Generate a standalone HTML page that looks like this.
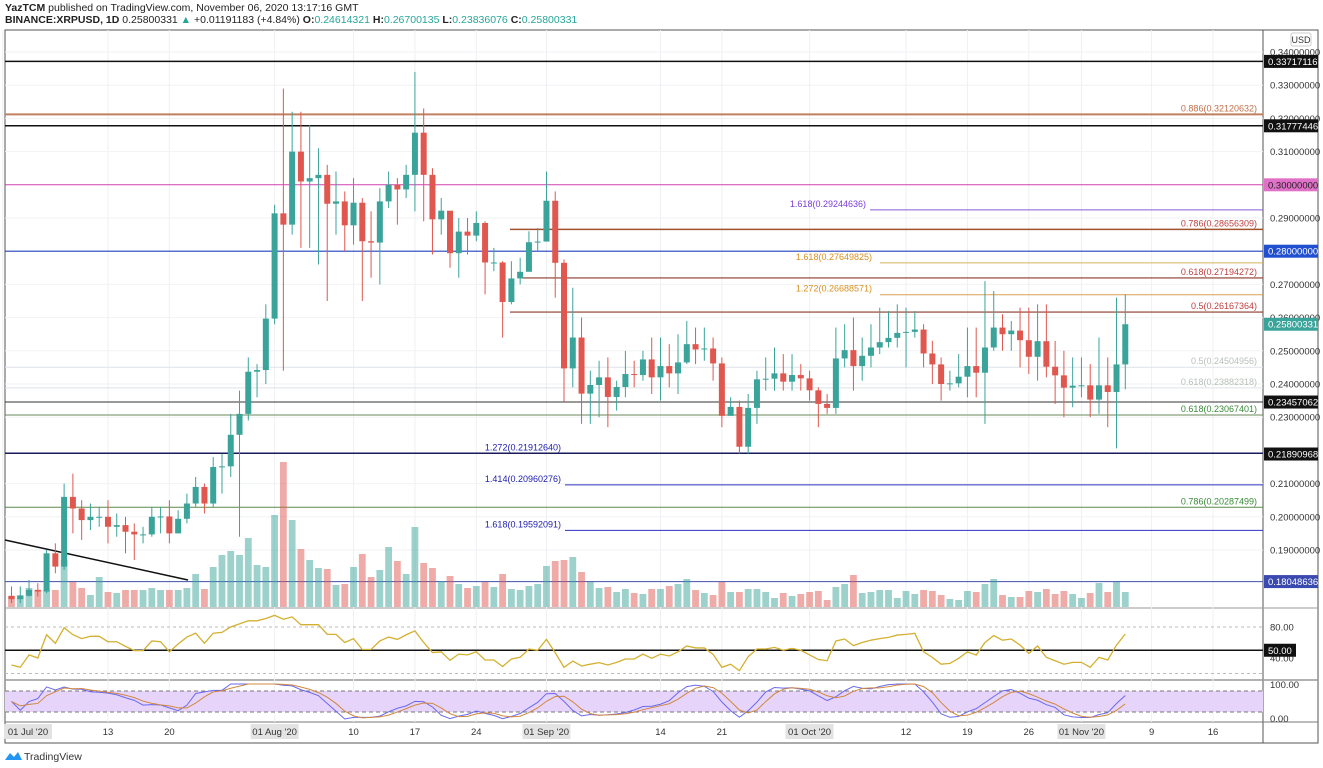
<!DOCTYPE html>
<html><head><meta charset="utf-8"><style>
body{margin:0;background:#fff;}
svg{display:block;font-family:"Liberation Sans",sans-serif;}
</style></head><body>
<svg id="chart" width="1323" height="768" viewBox="0 0 1323 768" xmlns="http://www.w3.org/2000/svg">
<text x="5" y="11" font-size="10.5" fill="#222"><tspan font-weight="bold">YazTCM</tspan> published on TradingView.com, November 06, 2020 13:17:16 GMT</text>
<text x="5" y="23" font-size="10.5" fill="#222"><tspan font-weight="bold">BINANCE:XRPUSD, 1D</tspan> 0.25800331 <tspan fill="#26a69a">▲</tspan> +0.01191183 (+4.84%) <tspan font-weight="bold">O:</tspan><tspan fill="#26a69a">0.24614321</tspan> <tspan font-weight="bold">H:</tspan><tspan fill="#26a69a">0.26700135</tspan> <tspan font-weight="bold">L:</tspan><tspan fill="#26a69a">0.23836076</tspan> <tspan font-weight="bold">C:</tspan><tspan fill="#26a69a">0.25800331</tspan></text>
<rect x="5" y="30" width="1313" height="713" fill="none" stroke="#555" stroke-width="1"/>
<line x1="1263" y1="30" x2="1263" y2="743" stroke="#555" stroke-width="1"/>
<line x1="5" y1="608" x2="1318" y2="608" stroke="#999" stroke-width="1"/>
<line x1="5" y1="680" x2="1318" y2="680" stroke="#999" stroke-width="1.5"/>
<line x1="5" y1="722" x2="1318" y2="722" stroke="#777" stroke-width="1"/>
<g id="grid"></g>
<g id="levels"></g>
<g id="vols"></g>
<g id="candles"></g>
<g id="rsi"></g>
<g id="stoch"></g>
<g id="axes"></g>
<rect x="1291" y="33" width="20" height="13" rx="2" fill="#fff" stroke="#ccc"/>
<text x="1301" y="43" font-size="9" text-anchor="middle" fill="#333">USD</text>
<g><path d="M5 760 L10 753 L14 757 L18 752 L22 760 Z" fill="#2196f3"/><text x="24" y="760" font-size="10.5" fill="#333">TradingView</text></g>
</svg>
<script>
const closes=[0.1752,0.1762,0.1780,0.1775,0.1890,0.1850,0.2060,0.2025,0.1990,0.2000,0.2000,0.1970,0.1975,0.1955,0.1947,0.1947,0.2000,0.2001,0.1950,0.1994,0.2040,0.2090,0.2040,0.2150,0.2152,0.2247,0.2310,0.2437,0.2442,0.2597,0.2914,0.2880,0.3100,0.3010,0.3020,0.3030,0.2943,0.2950,0.2878,0.2946,0.2830,0.2826,0.2950,0.3000,0.2986,0.3030,0.3157,0.3030,0.2896,0.2922,0.2794,0.2859,0.2847,0.2885,0.2766,0.2766,0.2647,0.2718,0.2738,0.2827,0.2829,0.2952,0.2765,0.2447,0.2540,0.2371,0.2397,0.2420,0.2361,0.2391,0.2430,0.2427,0.2474,0.2420,0.2454,0.2432,0.2465,0.2520,0.2504,0.2507,0.2462,0.2304,0.2331,0.2211,0.2328,0.2414,0.2416,0.2432,0.2407,0.2427,0.2417,0.2381,0.2340,0.2328,0.2477,0.2502,0.2454,0.2485,0.2510,0.2526,0.2539,0.2554,0.2557,0.2564,0.2492,0.2459,0.2400,0.2402,0.2422,0.2454,0.2434,0.2510,0.2570,0.2550,0.2561,0.2532,0.2482,0.2529,0.2452,0.2426,0.2389,0.2395,0.2396,0.2353,0.2396,0.2376,0.2459,0.2580];
const firstOpen=0.1762;
const highs=[0.179,0.179,0.181,0.180,0.190,0.192,0.210,0.213,0.205,0.204,0.203,0.205,0.201,0.200,0.198,0.197,0.203,0.203,0.205,0.202,0.207,0.212,0.210,0.218,0.219,0.231,0.238,0.248,0.246,0.264,0.294,0.329,0.322,0.322,0.318,0.311,0.306,0.304,0.298,0.302,0.296,0.292,0.299,0.304,0.302,0.306,0.334,0.323,0.305,0.296,0.292,0.290,0.290,0.292,0.289,0.281,0.277,0.277,0.278,0.286,0.287,0.304,0.298,0.2775,0.269,0.260,0.244,0.247,0.248,0.241,0.250,0.247,0.250,0.254,0.254,0.252,0.255,0.259,0.257,0.257,0.254,0.248,0.236,0.235,0.237,0.244,0.248,0.251,0.249,0.249,0.246,0.244,0.239,0.237,0.257,0.258,0.260,0.254,0.258,0.263,0.262,0.264,0.263,0.262,0.258,0.253,0.248,0.244,0.249,0.257,0.257,0.271,0.268,0.261,0.259,0.263,0.263,0.264,0.264,0.253,0.250,0.248,0.248,0.246,0.254,0.248,0.266,0.267];
const lows=[0.174,0.174,0.176,0.176,0.177,0.183,0.184,0.195,0.193,0.196,0.197,0.192,0.194,0.189,0.187,0.192,0.194,0.195,0.192,0.195,0.198,0.203,0.201,0.203,0.207,0.212,0.194,0.229,0.236,0.240,0.258,0.244,0.285,0.281,0.281,0.276,0.265,0.285,0.280,0.282,0.265,0.272,0.270,0.293,0.288,0.296,0.292,0.289,0.279,0.285,0.275,0.272,0.279,0.283,0.267,0.274,0.254,0.264,0.270,0.274,0.280,0.283,0.266,0.2346,0.239,0.228,0.228,0.230,0.227,0.232,0.236,0.239,0.241,0.237,0.235,0.239,0.237,0.246,0.246,0.247,0.241,0.227,0.231,0.219,0.219,0.228,0.238,0.238,0.238,0.238,0.238,0.235,0.227,0.231,0.231,0.245,0.238,0.241,0.245,0.249,0.251,0.251,0.245,0.254,0.245,0.240,0.235,0.238,0.239,0.236,0.236,0.228,0.250,0.250,0.250,0.245,0.243,0.241,0.242,0.234,0.230,0.233,0.236,0.230,0.231,0.227,0.2206,0.2384];
const volumes=[11,12,19,17,17,17,47,25,19,12,30,15,14,17,17,17,19,17,17,17,19,33,18,40,52,56,52,69,42,40,92,145,87,58,47,39,38,22,23,40,53,30,37,60,46,33,80,44,39,26,31,23,19,21,25,20,33,18,17,21,23,41,46,47,50,35,25,19,20,15,18,14,13,18,18,21,23,28,17,14,12,25,15,15,18,18,15,9,14,11,13,15,16,7,20,23,32,14,15,17,17,9,16,13,17,16,12,8,7,16,15,23,28,12,10,10,16,15,18,13,16,13,9,14,24,15,25,15];
const rsiValues=[31,28,44,40,70,59,79,70,65,68,68,61,61,55,49.5,49.5,62,61,48,58,67,72,59,72,73,80,84,88,88,91,95,90,93,83,83,83,70.5,70.5,60,65,51,51,62,67,64,70,75,60,47,48,37,45,44,48,37.4,37.4,29,38.7,41,51.6,50,64,46.8,28,36,29.7,32,34,31,34.4,38.7,38.7,45,39.6,45,42.6,48,55.5,53,53,44.7,28,32,23.6,41.7,51.6,51.6,53.7,50,52.4,50,44,38,36.5,62,64.5,56,60,63,65,66.6,69.6,70.5,71.8,48,40.8,32,33,39.6,48,43.8,60,69,63,64.5,56.7,46,55.5,40.8,36.5,32,34.4,34.4,28,40.8,37.4,56.7,71];
const priceTicks=[0.34,0.33,0.32,0.31,0.29,0.27,0.26,0.25,0.24,0.23,0.21,0.20,0.19];
const dateTicks=[[-1,"01 Jul '20",true],[11,"13",false],[18,"20",false],[30,"01 Aug '20",true],[39,"10",false],[46,"17",false],[53,"24",false],[61,"01 Sep '20",true],[74,"14",false],[81,"21",false],[91,"01 Oct '20",true],[102,"12",false],[109,"19",false],[116,"26",false],[122,"01 Nov '20",true],[130,"9",false],[137,"16",false]];
const NS="http://www.w3.org/2000/svg";
const X=i=>11.5+i*8.77;
const Y=p=>52+(0.34-p)*3320;
const RY=v=>611.5+(100-v)*0.775;
const SY=v=>719-v*0.35;
function mk(tag,attrs,parent,txt){const e=document.createElementNS(NS,tag);for(const k in attrs)e.setAttribute(k,attrs[k]);if(txt!==undefined)e.textContent=txt;parent.appendChild(e);return e;}
const G=id=>document.getElementById(id);
dateTicks.forEach(d=>{const l=mk('line',{x1:X(d[0]),x2:X(d[0]),y1:30,y2:722,stroke:'#eef0f3','stroke-width':1},G('grid'));

});
priceTicks.forEach(p=>{const l=mk('line',{x1:5,x2:1263,y1:Y(p),y2:Y(p),stroke:'#f0f2f5','stroke-width':1},G('grid'));

});
const levels=[
[0.33717116,'#111',5,1.5,'',0,''],
[0.32120632,'#c08060',5,2,'0.886(0.32120632)',1257,'end'],
[0.31777446,'#111',5,1.5,'',0,''],
[0.30,'#d040b0',5,1,'',0,''],
[0.29244636,'#8a5ad8',870,1,'1.618(0.29244636)',866,'end'],
[0.28656309,'#a0522d',510,1.5,'0.786(0.28656309)',1257,'end'],
[0.28,'#2040c0',5,1.2,'',0,''],
[0.27649825,'#d8b060',880,1,'1.618(0.27649825)',872,'end'],
[0.27194272,'#8b3a2a',520,1.2,'0.618(0.27194272)',1257,'end'],
[0.26688571,'#d8a050',880,1,'1.272(0.26688571)',872,'end'],
[0.26167364,'#8b3a2a',510,1.2,'0.5(0.26167364)',1257,'end'],
[0.24504956,'#dde2e8',5,1,'0.5(0.24504956)',1257,'end'],
[0.23882318,'#dde2e8',5,1,'0.618(0.23882318)',1257,'end'],
[0.23457062,'#333',5,1,'',0,''],
[0.23067401,'#6a8a5a',5,1,'0.618(0.23067401)',1257,'end'],
[0.21912640,'#1a1a5a',5,1.5,'1.272(0.21912640)',561,'end'],
[0.20960276,'#3030c0',565,1,'1.414(0.20960276)',561,'end'],
[0.20287499,'#5a8a4a',5,1,'0.786(0.20287499)',1257,'end'],
[0.19592091,'#3030c0',565,1,'1.618(0.19592091)',561,'end'],
[0.18048636,'#4050b0',5,1,'',0,'']];
const txtCol={'#c08060':'#c0704a','#8b3a2a':'#c04040','#a0522d':'#c04040','#dde2e8':'#b8c0b8','#6a8a5a':'#3a8a3a','#5a8a4a':'#3a8a3a','#1a1a5a':'#2020b0','#3030c0':'#2020b0','#8a5ad8':'#7a3ad8','#d8b060':'#d89020','#d8a050':'#d89020'};
levels.forEach(L=>{const y=Y(L[0]);
const l=mk('line',{x1:L[2],x2:1263,y1:y,y2:y,stroke:L[1],'stroke-width':L[3]},G('levels'));


if(L[4]){const t=mk('text',{x:L[5],y:y-3,'font-size':9,'text-anchor':L[6],fill:txtCol[L[1]]||'#333'},G('levels'),L[4]);

}});
const tl=mk('line',{x1:5,y1:540,x2:188,y2:580,stroke:'#111','stroke-width':1.5},G('levels'));


closes.forEach((c,i)=>{const o=i?closes[i-1]:firstOpen;const up=c>=o;const x=X(i);
const col=up?'#3aa39a':'#e0574f';
const v=mk('rect',{x:x-3.4,y:607-volumes[i],width:6.8,height:volumes[i],fill:up?'rgba(58,163,154,0.5)':'rgba(224,87,79,0.5)'},G('vols'));


const w=mk('line',{x1:x,x2:x,y1:Y(highs[i]),y2:Y(lows[i]),stroke:col,'stroke-width':1},G('candles'));


const top=Y(Math.max(o,c)),bot=Y(Math.min(o,c));
const b=mk('rect',{x:x-3,y:top,width:6,height:Math.max(1,bot-top),fill:col},G('candles'));

});
const rsi=rsiValues;
[80,20].forEach(r=>{const l=mk('line',{x1:5,x2:1263,y1:RY(r),y2:RY(r),stroke:'#bbb','stroke-dasharray':'3,3'},G('rsi'));

});
const m50=mk('line',{x1:5,x2:1263,y1:RY(50),y2:RY(50),stroke:'#111','stroke-width':1.5},G('rsi'));


const rl=mk('polyline',{points:rsi.map((v,i)=>X(i)+','+RY(v)).join(' '),fill:'none',stroke:'#d4b030','stroke-width':1.3},G('rsi'));


const st=rsi.map((v,i)=>{const w=rsi.slice(Math.max(0,i-13),i+1);const mn=Math.min(...w),mx=Math.max(...w);return mx>mn?(v-mn)/(mx-mn)*100:50;});
const sma=(a,n)=>a.map((v,i)=>{const w=a.slice(Math.max(0,i-n+1),i+1);return w.reduce((s,x)=>s+x,0)/w.length;});
const K=sma(st,3),D=sma(K,3);
const band=mk('rect',{x:5,y:SY(80),width:1258,height:SY(20)-SY(80),fill:'#e6d4fb'},G('stoch'));


[80,20].forEach(v=>{const l=mk('line',{x1:5,x2:1263,y1:SY(v),y2:SY(v),stroke:'#777','stroke-dasharray':'4,3'},G('stoch'));

});
const kl=mk('polyline',{points:K.map((v,i)=>X(i)+','+SY(v)).join(' '),fill:'none',stroke:'#6a6af0','stroke-width':1},G('stoch'));


const dl=mk('polyline',{points:D.map((v,i)=>X(i)+','+SY(v)).join(' '),fill:'none',stroke:'#d08840','stroke-width':1},G('stoch'));


const A=G('axes');
priceTicks.forEach(p=>{const t=mk('text',{x:1270,y:Y(p)+3.5,'font-size':9.5,fill:'#333'},A,p.toFixed(8));

});
const axLabels=[[0.33717116,'#111','#fff'],[0.31777446,'#111','#fff'],[0.30,'#e070c8','#222'],[0.28,'#2050d0','#fff'],[0.25800331,'#3aa39a','#fff'],[0.23457062,'#111','#fff'],[0.21890968,'#111','#fff'],[0.18048636,'#3a4ab0','#fff']];
axLabels.forEach(a=>{const y=Y(a[0]);const r=mk('rect',{x:1264,y:y-6.5,width:54,height:13,fill:a[1]},A);


mk('text',{x:1268,y:y+3.5,'font-size':9.5,fill:a[2]},A,a[0].toFixed(8));});
dateTicks.forEach(d=>{const x=d[0]<0?28:X(d[0]);
if(d[2]){const r=mk('rect',{x:x-24,y:724,width:48,height:15,fill:'#e3e3e3'},A);

}
const t=mk('text',{x:x,y:735,'font-size':9.5,'text-anchor':'middle',fill:'#333'},A,d[1]);

});
[[80,'80.00'],[40,'40.00']].forEach(r=>{mk('text',{x:1270,y:RY(r[0])+3.5,'font-size':9.5,fill:'#333'},A,r[1]);});
const r50=mk('rect',{x:1264,y:RY(50)-6.5,width:32,height:13,fill:'#111'},A);


mk('text',{x:1268,y:RY(50)+3.5,'font-size':9.5,fill:'#fff'},A,'50.00');
mk('text',{x:1270,y:688,'font-size':9.5,fill:'#333'},A,'100.00');
mk('text',{x:1270,y:722,'font-size':9.5,fill:'#333'},A,'0.00');
</script>
</body></html>
